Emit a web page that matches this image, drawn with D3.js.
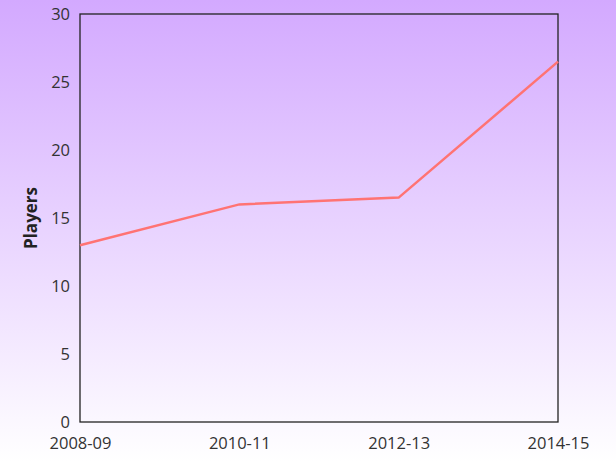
<!DOCTYPE html>
<meta charset="utf-8">
<style>
  body { margin: 0; }
  svg { display: block; font-family: "Open Sans", sans-serif; }
</style>
<body>
<div id="chart"></div>
<script src="https://d3js.org/d3.v7.min.js"></script>
<script>

var seasons = ["2008-09", "2010-11", "2012-13", "2014-15"];
var players = [13, 16, 16.5, 26.5];
var yTicks = [0, 5, 10, 15, 20, 25, 30];

var W = 616, H = 462;
var margin = {top: 14, right: 58, bottom: 40, left: 80},
    width = W - margin.left - margin.right,
    height = H - margin.top - margin.bottom;

var root = d3.select("#chart")
  .append("svg")
    .attr("width", W)
    .attr("height", H);

var grad = root.append("defs").append("linearGradient")
    .attr("id", "bg")
    .attr("x1", 0).attr("y1", 0).attr("x2", 0).attr("y2", 1);
grad.append("stop").attr("offset", "0%").attr("stop-color", "#d3a9ff");
grad.append("stop").attr("offset", "100%").attr("stop-color", "#ffffff");

root.append("rect")
    .attr("width", W).attr("height", H)
    .attr("fill", "url(#bg)");

var svg = root.append("g")
    .attr("transform", "translate(" + margin.left + "," + margin.top + ")");

var x = d3.scalePoint()
    .domain(seasons)
    .range([0, width]);

var y = d3.scaleLinear()
    .domain([0, 30])
    .range([height, 0]);

// frame
svg.append("rect")
    .attr("width", width).attr("height", height)
    .attr("fill", "none")
    .attr("stroke", "#222")
    .attr("stroke-width", 1.3);

var xAxis = svg.append("g")
    .attr("transform", "translate(0," + height + ")")
    .call(d3.axisBottom(x).tickSize(0).tickPadding(15));
xAxis.attr("font-family", null).attr("font-size", null);
xAxis.select(".domain").remove();
xAxis.selectAll("text")
    .style("font-size", "16.5px")
    .style("fill", "#333");

var yAxis = svg.append("g")
    .call(d3.axisLeft(y).tickValues(yTicks).tickSize(0).tickPadding(10));
yAxis.attr("font-family", null).attr("font-size", null);
yAxis.select(".domain").remove();
yAxis.selectAll("text")
    .style("font-size", "16.5px")
    .style("fill", "#333");

svg.append("text")
    .attr("transform", "translate(" + (-43) + "," + (height / 2) + ") rotate(-90)")
    .attr("text-anchor", "middle")
    .style("font-size", "17px")
    .style("font-weight", "bold")
    .style("fill", "#222")
    .text("Players");

var line = d3.line()
    .x(function (d, i) { return x(seasons[i]); })
    .y(function (d) { return y(d); });

svg.append("path")
    .datum(players)
    .attr("fill", "none")
    .attr("stroke", "#ff7373")
    .attr("stroke-width", 2.5)
    .attr("d", line);

</script>
</body>
